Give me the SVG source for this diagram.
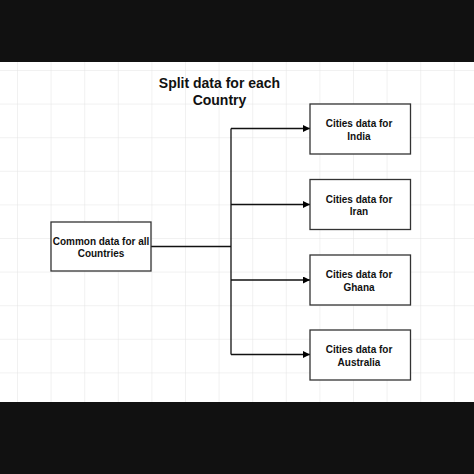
<svg xmlns="http://www.w3.org/2000/svg" width="474" height="474" viewBox="0 0 474 474">
<defs>
<pattern id="grid" x="17" y="70" width="33.6" height="33.6" patternUnits="userSpaceOnUse">
<path d="M0 0H33.6M0 0V33.6" fill="none" stroke="#e4e4e4" stroke-width="1"/>
</pattern>
<marker id="arr" viewBox="0 0 10 10" refX="10" refY="5" markerWidth="7" markerHeight="7" markerUnits="userSpaceOnUse" orient="auto">
<path d="M0 0L10 5L0 10Z" fill="#000"/>
</marker>
<style>
.box{fill:#fff;stroke:#333;stroke-width:1.3}
.t{font-family:"Liberation Sans",Arial,sans-serif;font-weight:bold;font-size:10px;fill:#111;text-anchor:middle}
.title{font-family:"Liberation Sans",Arial,sans-serif;font-weight:bold;font-size:14px;fill:#111;text-anchor:middle}
.c{fill:none;stroke:#111;stroke-width:1.3}
</style>
</defs>
<rect x="0" y="0" width="474" height="474" fill="#111"/>
<rect x="0" y="62" width="474" height="340" fill="#fff"/>
<rect x="0" y="62" width="474" height="340" fill="url(#grid)"/>
<g id="title">
<text class="title" x="219.5" y="88">Split data for each</text>
<text class="title" x="219.5" y="104.5">Country</text>
</g>
<g id="connectors">
<path class="c" d="M151 246.5H231"/>
<path class="c" d="M231 128.5V354.5"/>
<path class="c" d="M231 128.5H310" marker-end="url(#arr)"/>
<path class="c" d="M231 204.5H310" marker-end="url(#arr)"/>
<path class="c" d="M231 280H310" marker-end="url(#arr)"/>
<path class="c" d="M231 354.5H310" marker-end="url(#arr)"/>
</g>
<g id="common">
<rect class="box" x="51" y="222" width="100" height="49"/>
<text class="t" x="101" y="244.5">Common data for all</text>
<text class="t" x="101" y="256.5">Countries</text>
</g>
<g id="india">
<rect class="box" x="310" y="104" width="100.5" height="50"/>
<text class="t" x="359" y="127">Cities data for</text>
<text class="t" x="359" y="139.5">India</text>
</g>
<g id="iran">
<rect class="box" x="310" y="179.5" width="100.5" height="50"/>
<text class="t" x="359" y="202.5">Cities data for</text>
<text class="t" x="359" y="215">Iran</text>
</g>
<g id="ghana">
<rect class="box" x="310" y="255" width="100.5" height="50"/>
<text class="t" x="359" y="278">Cities data for</text>
<text class="t" x="359" y="290.5">Ghana</text>
</g>
<g id="australia">
<rect class="box" x="310" y="330" width="100.5" height="50"/>
<text class="t" x="359" y="353">Cities data for</text>
<text class="t" x="359" y="365.5">Australia</text>
</g>
</svg>
